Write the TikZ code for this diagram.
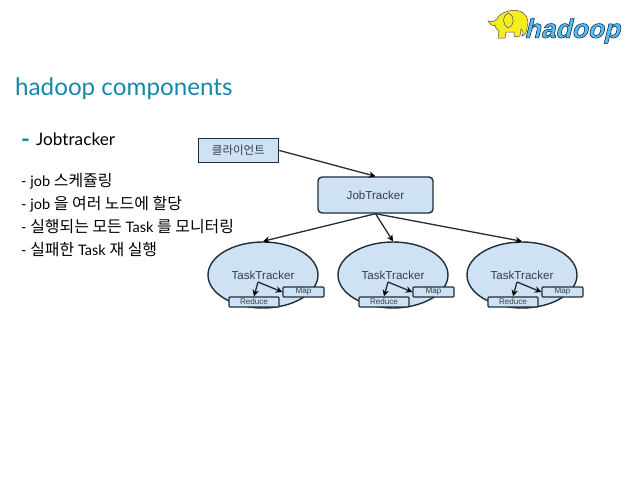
\documentclass[tikz,border=0pt]{standalone}
\usepackage{fontspec}
\setmainfont{Lato}
\newfontfamily\cjk[Scale=1.1]{Noto Sans CJK KR}
\newfontfamily\cjkbox{Noto Sans CJK KR}
\newfontfamily\arial{Liberation Sans}
\newfontfamily\logofont[FakeBold=2,FakeSlant=0.25]{Liberation Sans Bold}
\usetikzlibrary{arrows.meta,shapes.geometric}
\definecolor{titleteal}{HTML}{1587A8}
\definecolor{boxfill}{HTML}{CFE2F3}
\definecolor{boxline}{HTML}{1F2D3A}
\definecolor{boxtext}{HTML}{333F48}
\definecolor{logoblue}{HTML}{55BDF0}
\definecolor{logoyellow}{HTML}{F4EE1E}

\begin{document}
\begin{tikzpicture}[x=1pt,y=-1pt]
		\useasboundingbox (0,0) rectangle (638,479);

		% logo
		\begin{scope}[draw=black!70,line width=0.5pt,fill=logoyellow]
			\filldraw (497,19) .. controls (500,12) and (512,9) .. (519,11) .. controls (526,13) and (530,20) .. (527,27)
				.. controls (527,31) and (526,35) .. (522,36) .. controls (524,33) and (523,30) .. (521,29)
				-- (520,36) -- (514,37) -- (514,32) -- (506,32) -- (505,38) -- (498,38) -- (499,31)
				.. controls (496,29) and (495,27) .. (495,25) .. controls (493,27) and (490,24) .. (488,21) .. controls (491,22) and (494,22) .. (497,19) -- cycle;
			\filldraw (508,13) .. controls (502,16) and (502,24) .. (508,28) .. controls (514,27) and (516,16) .. (508,13) -- cycle;
		\end{scope}
		\node (logo) at (572,31) {\logofont\fontsize{26.5}{28}\selectfont\color{logoblue}\special{pdf:code 0.05 0.13 0.25 RG}hadoop};

		% text on the left
		\begin{scope}[every node/.style={anchor=base west,inner sep=0pt}]
			\node[text=titleteal,font=\fontsize{24.2}{28}\selectfont] (title) at (15,95) {hadoop components};
			\node[text=titleteal,font=\bfseries\fontsize{24}{24}\selectfont] (dash) at (21,147) {-};
			\node[font=\fontsize{17.2}{22}\selectfont] (head) at (36,145) {Jobtracker};
			\node[font=\fontsize{14.5}{18}\selectfont] (lineA) at (21,186) {- job {\cjk 스케쥴링}};
			\node[font=\fontsize{14.5}{18}\selectfont] (lineB) at (21,209) {- job {\cjk 을 여러 노드에 할당}};
			\node[font=\fontsize{14.5}{18}\selectfont] (lineC) at (21,232) {- {\cjk 실행되는 모든} Task {\cjk 를 모니터링}};
			\node[font=\fontsize{14.5}{18}\selectfont] (lineD) at (21,255) {- {\cjk 실패한} Task {\cjk 재 실행}};
		\end{scope}

		% diagram
		\begin{scope}[every node/.style={draw=boxline,fill=boxfill,text=boxtext,line width=1.4pt,inner sep=0pt}]
			\node[minimum width=80pt,minimum height=24pt,font=\cjkbox\fontsize{11.5}{12}\selectfont] (client) at (238.4,150.4) {클라이언트};
			\node[rounded corners=4pt,minimum width=115pt,minimum height=36pt,font=\arial\fontsize{11.6}{12}\selectfont] (jobtracker) at (375.5,195) {JobTracker};
			\foreach \i/\x in {1/263,2/393,3/522} {
				\node[ellipse,minimum width=110pt,minimum height=66pt,font=\arial\fontsize{11.6}{12}\selectfont] (task\i) at (\x,275) {TaskTracker};
				\node[rounded corners=1pt,minimum width=50pt,minimum height=10pt,font=\arial\fontsize{8.1}{9}\selectfont] (reduce\i) at (\x-9,302) {Reduce};
				\node[rounded corners=1pt,minimum width=41pt,minimum height=10pt,font=\arial\fontsize{8.1}{9}\selectfont] (map\i) at (\x+40.5,292) {Map};
				\coordinate (fork\i) at (\x-5,282);
			}
		\end{scope}

		\begin{scope}[>={Stealth[black,length=6.5pt,width=6.5pt]},
					every edge/.style={draw=boxline,line width=1.3pt}]
			\path [->] (client.east) edge (jobtracker.north);
			\foreach \i in {1,2,3} {
				\path [->] (jobtracker.south) edge (task\i.north);
				\path [->] (fork\i) edge (map\i.west);
				\path [->] (fork\i) edge (reduce\i.north);
			}
		\end{scope}
	\end{tikzpicture}
\end{document}
